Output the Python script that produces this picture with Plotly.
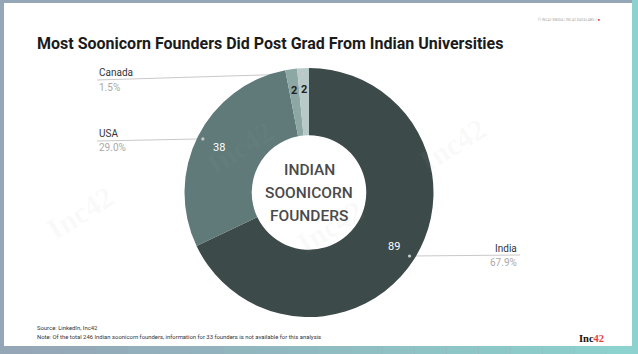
import math
import plotly.graph_objects as go

W, H = 638, 354

# ---- data ----
countries = ["India", "USA", "Other", "Canada"]
founders = [89, 38, 2, 2]
shares = ["67.9%", "29.0%", "", "1.5%"]
slice_colors = ["#3c4a49", "#5f7a78", "#8ca7a4", "#b8cac8"]
value_colors = ["white", "white", "#222222", "#222222"]
title_text = "Most Soonicorn Founders Did Post Grad From Indian Universities"
center_lines = ["INDIAN", "SOONICORN", "FOUNDERS"]
source_text = "Source: LinkedIn, Inc42"
note_text = ("Note: Of the total 246 Indian soonicorn founders, information for 33 "
             "founders is not available for this analysis")

def px(x):
    return x / W

def py(y):
    return 1 - y / H

# pie geometry (pixels)
cx, cy, R = 309, 192.5, 124.5
hole = 0.46

fig = go.Figure()
fig.add_trace(go.Pie(
    labels=countries,
    values=founders,
    sort=False,
    direction="clockwise",
    rotation=0,
    hole=hole,
    marker=dict(colors=slice_colors, line=dict(width=0)),
    textinfo="none",
    domain=dict(x=[px(cx - R), px(cx + R)], y=[py(cy + R), py(cy - R)]),
    showlegend=False,
    hoverinfo="skip",
))

shapes = []
annotations = []

# frame / card
shapes.append(dict(type="rect", xref="paper", yref="paper", x0=0, x1=1, y0=0, y1=1,
                   fillcolor="#95a6b6", line=dict(width=0), layer="below"))
nseg = 20
for i in range(nseg):
    t = i / (nseg - 1)
    r = int(0x95 + (0x8c - 0x95) * t)
    g = int(0xa6 + (0xd2 - 0xa6) * t)
    b = int(0xb6 + (0xce - 0xb6) * t)
    shapes.append(dict(type="rect", xref="paper", yref="paper",
                       x0=i / nseg, x1=(i + 1) / nseg, y0=0, y1=py(346),
                       fillcolor=f"rgb({r},{g},{b})", line=dict(width=0), layer="below"))
shapes.append(dict(type="rect", xref="paper", yref="paper", x0=px(632), x1=1, y0=0, y1=1,
                   fillcolor="#8dd2ce", line=dict(width=0), layer="below"))
shapes.append(dict(type="rect", xref="paper", yref="paper", x0=px(4), x1=px(632),
                   y0=py(346), y1=py(3), fillcolor="white", line=dict(width=0), layer="below"))

# watermarks
for (wx, wy) in [(38, 212), (240, 112), (495, 145), (330, 262)]:
    annotations.append(dict(x=px(wx), y=py(wy), xref="paper", yref="paper", text="<b>Inc42</b>",
                            showarrow=False, textangle=-32,
                            font=dict(size=30, family="Liberation Serif",
                                      color="rgba(170,170,170,0.07)")))

# slice mid angles from data
total = sum(founders)
cum = 0
mids = []
for v in founders:
    mids.append((cum + v / 2) / total * 2 * math.pi)
    cum += v

def pt(angle, rad):
    return cx + rad * math.sin(angle), cy - rad * math.cos(angle)

# value labels on slices
for i, v in enumerate(founders):
    small = v / total < 0.05
    tx, ty = pt(mids[i], R * (0.83 if small else 0.81))
    annotations.append(dict(x=px(tx), y=py(ty), xref="paper", yref="paper",
                            text=f"<b>{v}</b>" if small else str(v), showarrow=False,
                            xanchor="center", yanchor="middle",
                            font=dict(size=11, family="Roboto", color=value_colors[i])))

# leader labels
label_layout = {
    0: dict(x=519, ny=248, py_=262, anchor="right", lx=520, ly=255),
    1: dict(x=97, ny=134, py_=148, anchor="left", lx=97, ly=141),
    3: dict(x=97, ny=72, py_=87, anchor="left", lx=97, ly=80),
}
for i, L in label_layout.items():
    dx, dy = pt(mids[i], R * 0.955)
    shapes.append(dict(type="line", xref="paper", yref="paper",
                       x0=px(L["lx"]), y0=py(L["ly"]), x1=px(dx), y1=py(dy),
                       line=dict(color="#c9c9c9", width=1), layer="below"))
    rr = 1.6
    shapes.append(dict(type="circle", xref="paper", yref="paper",
                       x0=px(dx - rr), x1=px(dx + rr), y0=py(dy + rr), y1=py(dy - rr),
                       fillcolor="#c8c8c8", line=dict(width=0), layer="above"))
    annotations.append(dict(x=px(L["x"]), y=py(L["ny"]), xref="paper", yref="paper",
                            text=countries[i], showarrow=False, xanchor=L["anchor"],
                            yanchor="middle",
                            font=dict(size=10, family="Roboto", color="#333333")))
    annotations.append(dict(x=px(L["x"]), y=py(L["py_"]), xref="paper", yref="paper",
                            text=shares[i], showarrow=False, xanchor=L["anchor"],
                            yanchor="middle",
                            font=dict(size=10, family="Roboto", color="#aaaaaa")))

# center text
for k, line in enumerate(center_lines):
    annotations.append(dict(x=px(cx), y=py(170 + 23 * k), xref="paper", yref="paper",
                            text=line, showarrow=False, xanchor="center", yanchor="middle",
                            font=dict(size=15.5, family="Roboto", weight=500, color="#4a4a4a")))

# title
annotations.append(dict(x=px(35), y=py(44), xref="paper", yref="paper",
                        text=title_text, showarrow=False, xanchor="left",
                        yanchor="middle",
                        font=dict(size=16, family="Roboto", weight=700, color="#1b1b1b")))

# top-right tiny text
annotations.append(dict(x=px(602), y=py(19), xref="paper", yref="paper",
                        text="© INC42 MEDIA | INC42 DATALABS / <span style='color:#e8423f'>■</span>",
                        showarrow=False, xanchor="right", yanchor="middle",
                        font=dict(size=3.6, family="Roboto", color="#aaaaaa")))

# footnotes
annotations.append(dict(x=px(35), y=py(328), xref="paper", yref="paper", text=source_text,
                        showarrow=False, xanchor="left", yanchor="middle",
                        font=dict(size=5.9, family="Roboto", color="#333333")))
annotations.append(dict(x=px(35), y=py(337), xref="paper", yref="paper", text=note_text,
                        showarrow=False, xanchor="left", yanchor="middle",
                        font=dict(size=5.9, family="Roboto", color="#333333")))

# logo
annotations.append(dict(x=px(606), y=py(338), xref="paper", yref="paper",
                        text="<b>Inc</b><span style='color:#e8423f'><b>42</b></span>",
                        showarrow=False, xanchor="right", yanchor="middle",
                        font=dict(size=10.5, family="Liberation Serif", color="#111111")))

fig.update_layout(
    width=W, height=H,
    margin=dict(l=0, r=0, t=0, b=0),
    paper_bgcolor="white",
    plot_bgcolor="white",
    shapes=shapes,
    annotations=annotations,
    showlegend=False,
)

fig.write_html("out.html")
